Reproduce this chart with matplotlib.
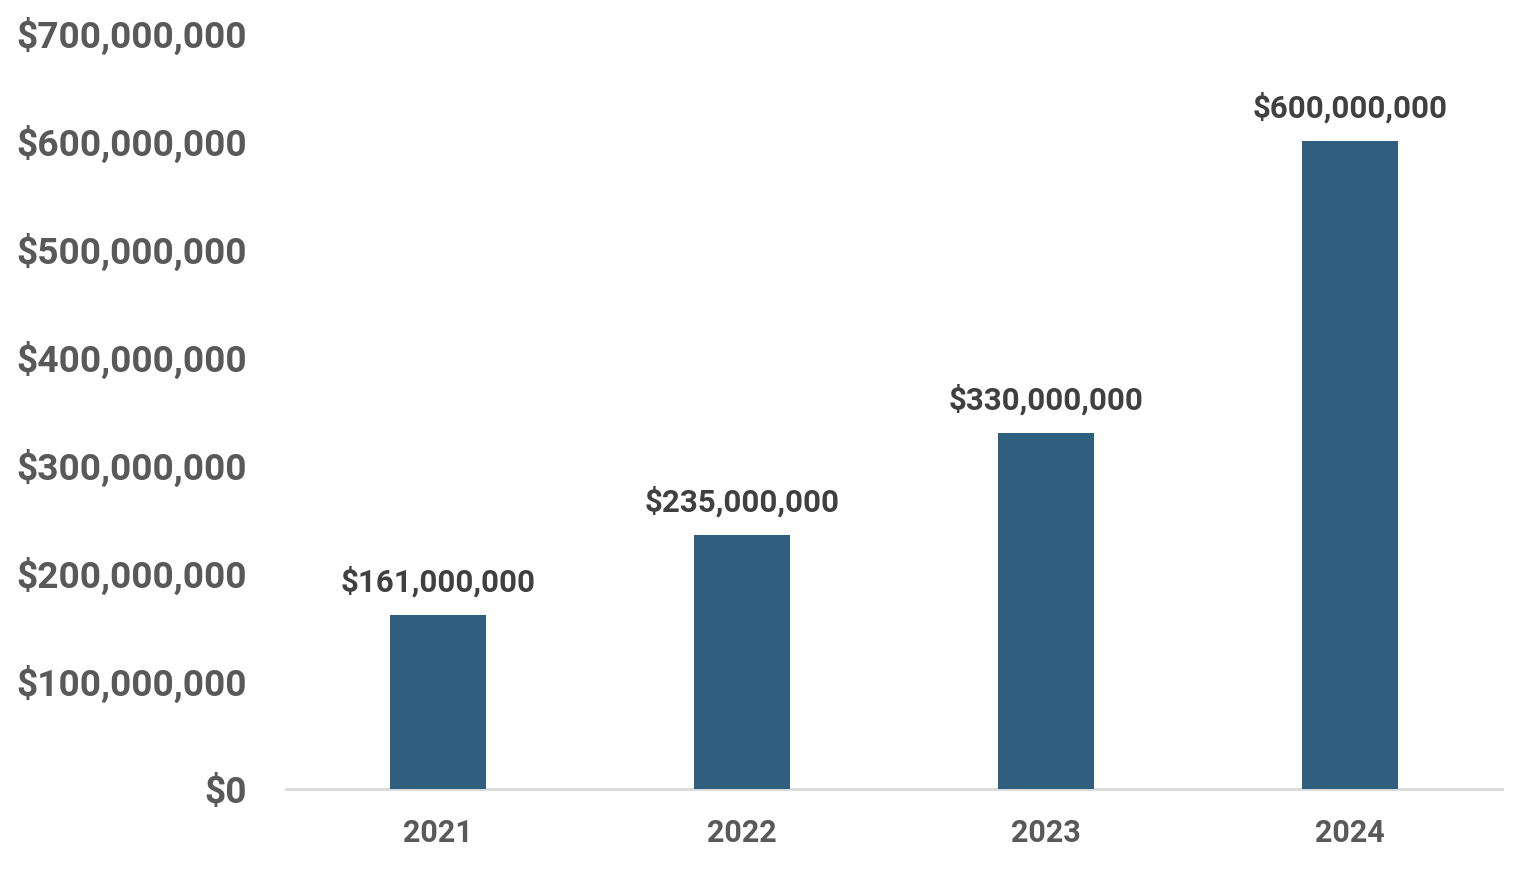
import matplotlib
matplotlib.use("Agg")
import matplotlib.pyplot as plt
from matplotlib.ticker import FuncFormatter, MultipleLocator

years = ["2021", "2022", "2023", "2024"]
values = [161_000_000, 235_000_000, 330_000_000, 600_000_000]

plt.rcParams['font.family'] = ['Roboto', 'DejaVu Sans']

fig = plt.figure(figsize=(15.36, 8.72), dpi=100)
ax = fig.add_axes([286/1536, 1-789/872, (1502-286)/1536, (789-33)/872])

x = range(len(years))
bars = ax.bar(x, values, width=0.316, color="#2E5F7F", zorder=3)
ax.set_xlim(-0.5, 3.5)
ax.set_ylim(0, 700_000_000)
ax.yaxis.set_major_locator(MultipleLocator(100_000_000))
ax.yaxis.set_major_formatter(FuncFormatter(lambda v, p: f"${v:,.0f}"))
ax.set_xticks(list(x))
ax.set_xticklabels(years)

for s in ["top", "right", "left"]:
    ax.spines[s].set_visible(False)
ax.spines["bottom"].set_color("#D9D9D9")
ax.spines["bottom"].set_linewidth(2)
ax.tick_params(axis="both", length=0)
ax.tick_params(axis="y", pad=28, labelsize=26.7, labelcolor="#595959")
ax.tick_params(axis="x", pad=21, labelsize=22, labelcolor="#595959")
for lab in ax.get_yticklabels() + ax.get_xticklabels():
    lab.set_fontweight("bold")
    
for lab in ax.get_yticklabels():
    lab.set_verticalalignment("center_baseline")

for xi, v in zip(x, values):
    ax.annotate(f"${v:,.0f}", (xi, v), xytext=(0, 12.5), textcoords="offset points",
                ha="center", va="bottom", fontsize=22.5, fontweight="bold", color="#404040")

fig.savefig("out.png", dpi=100)
